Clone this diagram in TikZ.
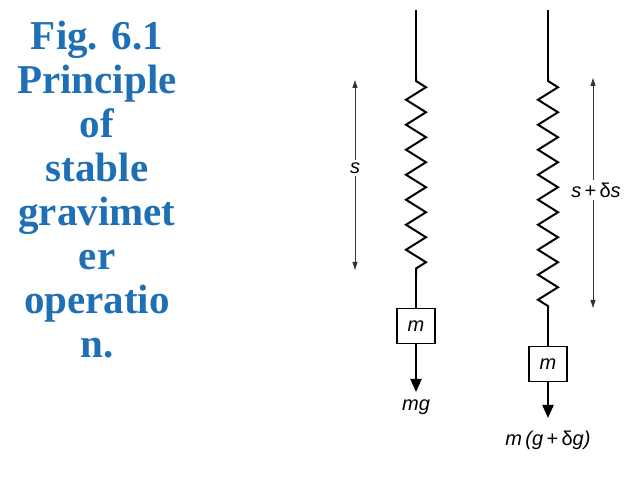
\documentclass[tikz,border=0pt]{standalone}
\usepackage{fontspec}
\setmainfont{Liberation Serif}
\setsansfont{Liberation Sans}
\usetikzlibrary{decorations.pathmorphing,arrows.meta}
\definecolor{titleblue}{HTML}{1F6FB4}
\tikzset{
  wire/.style={line width=2pt},
  spring/.style={line width=2pt,line join=miter,decorate,decoration={zigzag,segment length=25pt,amplitude=10pt,pre length=4pt,post length=4pt}},
  mass/.style={draw,line width=1.2pt,minimum width=38pt,minimum height=35pt,font=\sffamily\itshape\fontsize{20}{20}\selectfont},
  force/.style={line width=2pt,-{Triangle[length=13pt,width=11pt]}},
  dim/.style={line width=0.9pt,black!80,{Triangle[length=8pt,width=5pt]}-{Triangle[length=8pt,width=5pt]}},
  lab/.style={font=\sffamily\itshape\fontsize{20}{20}\selectfont},
  title/.style={text=titleblue,font=\bfseries\fontsize{41}{44}\selectfont,align=center}
}
\begin{document}
\begin{tikzpicture}[x=1pt,y=-1pt]
\useasboundingbox (0,0) rectangle (638,478);
\node[title] (t) at (97,190) {Fig. 6.1\\Principle\\of\\stable\\gravimet\\er\\operatio\\n.};
% left
\coordinate (l0) at (416,10);
\coordinate (l1) at (416,77);
\coordinate (l2) at (416,277);
\node[mass] (lm) at (416,326) {m};
\coordinate (lf) at (416,392);
\draw[wire] (l0) -- (l1);
\draw[spring] (l1) -- (l2);
\draw[wire] (l2) -- (lm.north);
\draw[force] (lm.south) -- (lf);
\node[lab] (lmg) at (416,407) {mg};
\coordinate (ls1) at (355,80);
\coordinate (ls2) at (355,270);
\draw[dim] (ls1) -- (ls2);
\node[lab,fill=white,inner sep=3pt] (ls) at (355,168) {s};
% right
\coordinate (r0) at (548,10);
\coordinate (r1) at (548,77);
\coordinate (r2) at (548,310);
\node[mass] (rm) at (548,364) {m};
\coordinate (rf) at (548,418);
\draw[wire] (r0) -- (r1);
\draw[spring] (r1) -- (r2);
\draw[wire] (r2) -- (rm.north);
\draw[force] (rm.south) -- (rf);
\node[lab] (rmg) at (548,440) {m\,(g\,\upshape+\,δ\itshape g)};
\coordinate (rs1) at (593,78);
\coordinate (rs2) at (593,308);
\draw[dim] (rs1) -- (rs2);
\node[lab,fill=white,inner sep=3pt] (rs) at (596,190) {s\,\upshape+\,δ\itshape s};
\end{tikzpicture}
\end{document}
